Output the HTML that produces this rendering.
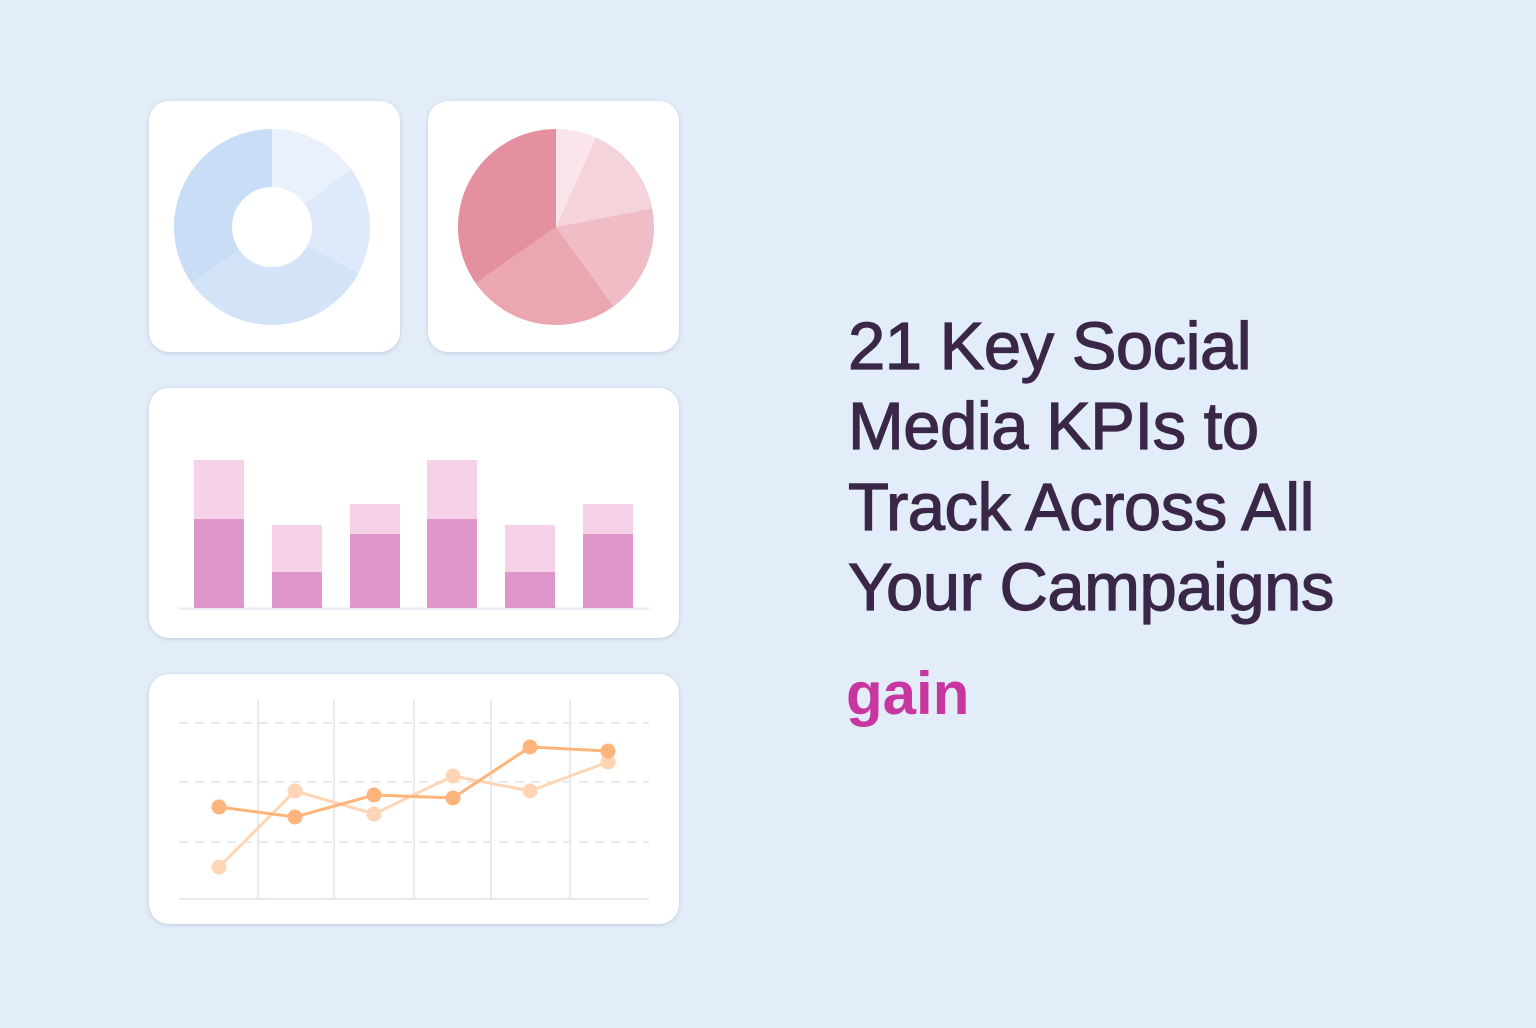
<!DOCTYPE html>
<html><head><meta charset="utf-8"><style>
html,body{margin:0;padding:0;}
body{width:1536px;height:1028px;background:#e3edf9;position:relative;overflow:hidden;font-family:"Liberation Sans",sans-serif;}
.card{position:absolute;background:#fff;border-radius:20px;box-shadow:0 1px 4px rgba(120,140,170,0.35);}
svg{position:absolute;left:0;top:0;}
.t{position:absolute;left:848px;color:#3a2748;font-size:67px;line-height:80px;white-space:nowrap;letter-spacing:-0.5px;-webkit-text-stroke:1.2px #3a2748;}
</style></head><body>
<div class="card" style="left:149px;top:101px;width:251px;height:251px"></div>
<div class="card" style="left:428px;top:101px;width:251px;height:251px"></div>
<div class="card" style="left:149px;top:388px;width:530px;height:250px"></div>
<div class="card" style="left:149px;top:674px;width:530px;height:250px"></div>
<svg width="1536" height="1028" viewBox="0 0 1536 1028">
<g transform="translate(272,227)">
<path d="M0,0 L0,-98 A98,98 0 0 1 79.3,-57.6 Z" fill="#e9f1fc"/>
<path d="M0,0 L79.3,-57.6 A98,98 0 0 1 86.5,46 Z" fill="#deeafa"/>
<path d="M0,0 L86.5,46 A98,98 0 0 1 -80.3,56.2 Z" fill="#d3e4f8"/>
<path d="M0,0 L-80.3,56.2 A98,98 0 0 1 0,-98 Z" fill="#c9def6"/>
<circle r="40" fill="#fff"/>
</g>
<g transform="translate(556,227)">
<path d="M0,0 L0,-98 A98,98 0 0 1 39.9,-89.5 Z" fill="#f9e5ea"/>
<path d="M0,0 L39.9,-89.5 A98,98 0 0 1 96.2,-18.7 Z" fill="#f5d3da"/>
<path d="M0,0 L96.2,-18.7 A98,98 0 0 1 57.6,79.3 Z" fill="#f0bcc6"/>
<path d="M0,0 L57.6,79.3 A98,98 0 0 1 -80.3,56.2 Z" fill="#eaa7b1"/>
<path d="M0,0 L-80.3,56.2 A98,98 0 0 1 0,-98 Z" fill="#e4909e"/>
</g>
<line x1="179" y1="608.5" x2="649" y2="608.5" stroke="#ebe6f0" stroke-width="2"/>
<g fill="#f6d2e8">
<rect x="194" y="460" width="50" height="148"/><rect x="272" y="525" width="50" height="83"/>
<rect x="350" y="504" width="50" height="104"/><rect x="427" y="460" width="50" height="148"/>
<rect x="505" y="525" width="50" height="83"/><rect x="583" y="504" width="50" height="104"/>
</g>
<g fill="#df97cb">
<rect x="194" y="519" width="50" height="89"/><rect x="272" y="572" width="50" height="36"/>
<rect x="350" y="534" width="50" height="74"/><rect x="427" y="519" width="50" height="89"/>
<rect x="505" y="572" width="50" height="36"/><rect x="583" y="534" width="50" height="74"/>
</g>
<g stroke="#e9e9f0" stroke-width="2">
<line x1="258" y1="699" x2="258" y2="899"/><line x1="334" y1="699" x2="334" y2="899"/>
<line x1="414" y1="699" x2="414" y2="899"/><line x1="491" y1="699" x2="491" y2="899"/>
<line x1="570" y1="699" x2="570" y2="899"/>
<line x1="179" y1="899" x2="649" y2="899"/>
<g stroke-dasharray="9,7"><line x1="179" y1="723" x2="649" y2="723"/><line x1="179" y1="782" x2="649" y2="782"/><line x1="179" y1="842" x2="649" y2="842"/></g>
</g>
<g fill="#ffd5b5" stroke="#ffd5b5">
<polyline fill="none" stroke-width="3" points="219,867 295,791 374,814 453,776 530,791 608,762"/>
<circle cx="219" cy="867" r="7"/><circle cx="295" cy="791" r="7"/><circle cx="374" cy="814" r="7"/><circle cx="453" cy="776" r="7"/><circle cx="530" cy="791" r="7"/><circle cx="608" cy="762" r="7"/>
</g>
<g fill="#ffb47c" stroke="#ffb47c">
<polyline fill="none" stroke-width="3" points="219,807 295,817 374,795 453,798 530,747 608,751"/>
<circle cx="219" cy="807" r="7"/><circle cx="295" cy="817" r="7"/><circle cx="374" cy="795" r="7"/><circle cx="453" cy="798" r="7"/><circle cx="530" cy="747" r="7"/><circle cx="608" cy="751" r="7"/>
</g>
</svg>
<div class="t" style="top:307px">21 Key Social</div>
<div class="t" style="top:387px">Media KPIs to</div>
<div class="t" style="top:468px">Track Across All</div>
<div class="t" style="top:548px">Your Campaigns</div>
<div style="position:absolute;left:846px;top:662px;font-size:60px;line-height:64px;font-weight:bold;color:#c8369f;letter-spacing:0px">gain</div>
</body></html>
